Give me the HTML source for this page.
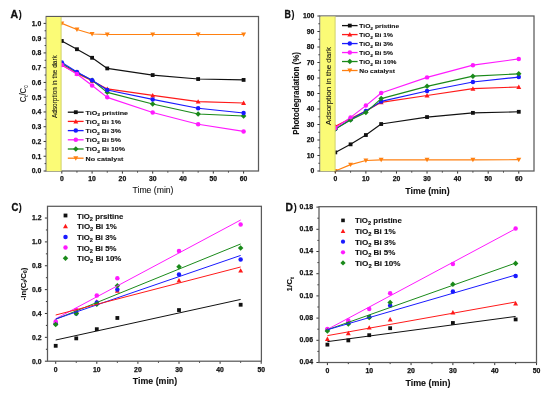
<!DOCTYPE html>
<html><head><meta charset="utf-8"><style>
html,body{margin:0;padding:0;background:#fff;}
body{width:550px;height:393px;overflow:hidden;}
svg{display:block;font-family:"Liberation Sans", sans-serif;filter:blur(0.25px);}
text{stroke:#111;stroke-width:0.08px;}
text[font-weight=bold]{stroke:#111;stroke-width:0.1px;}
text.pl{stroke-width:0.35px;}
text.tk{stroke-width:0.25px;}
</style></head><body>
<svg width="550" height="393" viewBox="0 0 550 393">
<rect width="550" height="393" fill="#fff"/>
<path d="M61.8 23.4L76.95 29.45L92.1 34.03L107.25 34.47L152.7 34.47L198.15 34.47L243.6 34.47" fill="none" stroke="#ff8010" stroke-width="1.15" stroke-linejoin="round"/>
<path d="M61.8 25.87L64.27 21.42L59.33 21.42Z" fill="#ff8010"/>
<path d="M76.95 31.92L79.42 27.48L74.48 27.48Z" fill="#ff8010"/>
<path d="M92.1 36.5L94.57 32.05L89.63 32.05Z" fill="#ff8010"/>
<path d="M107.25 36.94L109.72 32.49L104.78 32.49Z" fill="#ff8010"/>
<path d="M152.7 36.94L155.17 32.49L150.23 32.49Z" fill="#ff8010"/>
<path d="M198.15 36.94L200.62 32.49L195.68 32.49Z" fill="#ff8010"/>
<path d="M243.6 36.94L246.07 32.49L241.13 32.49Z" fill="#ff8010"/>
<path d="M61.8 40.96L76.95 49.23L92.1 57.79L107.25 68.42L152.7 75.06L198.15 79.05L243.6 79.93" fill="none" stroke="#111111" stroke-width="1.15" stroke-linejoin="round"/>
<rect x="59.9" y="39.06" width="3.8" height="3.8" fill="#111111"/>
<rect x="75.05" y="47.33" width="3.8" height="3.8" fill="#111111"/>
<rect x="90.2" y="55.89" width="3.8" height="3.8" fill="#111111"/>
<rect x="105.35" y="66.52" width="3.8" height="3.8" fill="#111111"/>
<rect x="150.8" y="73.16" width="3.8" height="3.8" fill="#111111"/>
<rect x="196.25" y="77.15" width="3.8" height="3.8" fill="#111111"/>
<rect x="241.7" y="78.03" width="3.8" height="3.8" fill="#111111"/>
<path d="M61.8 65.02L76.95 73.58L92.1 80.67L107.25 88.93L152.7 95.43L198.15 101.63L243.6 102.96" fill="none" stroke="#ff1a1a" stroke-width="1.15" stroke-linejoin="round"/>
<path d="M61.8 62.55L64.27 67L59.33 67Z" fill="#ff1a1a"/>
<path d="M76.95 71.11L79.42 75.56L74.48 75.56Z" fill="#ff1a1a"/>
<path d="M92.1 78.2L94.57 82.64L89.63 82.64Z" fill="#ff1a1a"/>
<path d="M107.25 86.46L109.72 90.91L104.78 90.91Z" fill="#ff1a1a"/>
<path d="M152.7 92.96L155.17 97.4L150.23 97.4Z" fill="#ff1a1a"/>
<path d="M198.15 99.16L200.62 103.6L195.68 103.6Z" fill="#ff1a1a"/>
<path d="M243.6 100.49L246.07 104.93L241.13 104.93Z" fill="#ff1a1a"/>
<path d="M61.8 63.55L76.95 72.4L92.1 80.23L107.25 92.33L152.7 103.99L198.15 114.03L243.6 115.95" fill="none" stroke="#1a8a1a" stroke-width="1.15" stroke-linejoin="round"/>
<path d="M61.8 60.79L64.55 63.55L61.8 66.3L59.04 63.55Z" fill="#1a8a1a"/>
<path d="M76.95 69.65L79.7 72.4L76.95 75.16L74.19 72.4Z" fill="#1a8a1a"/>
<path d="M92.1 77.47L94.85 80.23L92.1 82.98L89.34 80.23Z" fill="#1a8a1a"/>
<path d="M107.25 89.57L110 92.33L107.25 95.08L104.5 92.33Z" fill="#1a8a1a"/>
<path d="M152.7 101.23L155.45 103.99L152.7 106.74L149.94 103.99Z" fill="#1a8a1a"/>
<path d="M198.15 111.27L200.9 114.03L198.15 116.78L195.39 114.03Z" fill="#1a8a1a"/>
<path d="M243.6 113.19L246.35 115.95L243.6 118.7L240.84 115.95Z" fill="#1a8a1a"/>
<path d="M61.8 62.37L76.95 71.96L92.1 80.23L107.25 89.97L152.7 99.41L198.15 108.27L243.6 112.99" fill="none" stroke="#1a1aff" stroke-width="1.15" stroke-linejoin="round"/>
<circle cx="61.8" cy="62.37" r="2.24" fill="#1a1aff"/>
<circle cx="76.95" cy="71.96" r="2.24" fill="#1a1aff"/>
<circle cx="92.1" cy="80.23" r="2.24" fill="#1a1aff"/>
<circle cx="107.25" cy="89.97" r="2.24" fill="#1a1aff"/>
<circle cx="152.7" cy="99.41" r="2.24" fill="#1a1aff"/>
<circle cx="198.15" cy="108.27" r="2.24" fill="#1a1aff"/>
<circle cx="243.6" cy="112.99" r="2.24" fill="#1a1aff"/>
<path d="M61.8 65.02L76.95 74.03L92.1 85.54L107.25 97.35L152.7 112.55L198.15 124.21L243.6 131.44" fill="none" stroke="#ff1aff" stroke-width="1.15" stroke-linejoin="round"/>
<circle cx="61.8" cy="65.02" r="2.24" fill="#ff1aff"/>
<circle cx="76.95" cy="74.03" r="2.24" fill="#ff1aff"/>
<circle cx="92.1" cy="85.54" r="2.24" fill="#ff1aff"/>
<circle cx="107.25" cy="97.35" r="2.24" fill="#ff1aff"/>
<circle cx="152.7" cy="112.55" r="2.24" fill="#ff1aff"/>
<circle cx="198.15" cy="124.21" r="2.24" fill="#ff1aff"/>
<circle cx="243.6" cy="131.44" r="2.24" fill="#ff1aff"/>
<line x1="61.8" y1="171" x2="61.8" y2="173.6" stroke="#333333" stroke-width="1"/>
<text x="61.8" y="181.1" font-size="6.8" font-weight="bold" text-anchor="middle" fill="#111" class="tk">0</text>
<line x1="92.1" y1="171" x2="92.1" y2="173.6" stroke="#333333" stroke-width="1"/>
<text x="92.1" y="181.1" font-size="6.8" font-weight="bold" text-anchor="middle" fill="#111" class="tk">10</text>
<line x1="122.4" y1="171" x2="122.4" y2="173.6" stroke="#333333" stroke-width="1"/>
<text x="122.4" y="181.1" font-size="6.8" font-weight="bold" text-anchor="middle" fill="#111" class="tk">20</text>
<line x1="152.7" y1="171" x2="152.7" y2="173.6" stroke="#333333" stroke-width="1"/>
<text x="152.7" y="181.1" font-size="6.8" font-weight="bold" text-anchor="middle" fill="#111" class="tk">30</text>
<line x1="183" y1="171" x2="183" y2="173.6" stroke="#333333" stroke-width="1"/>
<text x="183" y="181.1" font-size="6.8" font-weight="bold" text-anchor="middle" fill="#111" class="tk">40</text>
<line x1="213.3" y1="171" x2="213.3" y2="173.6" stroke="#333333" stroke-width="1"/>
<text x="213.3" y="181.1" font-size="6.8" font-weight="bold" text-anchor="middle" fill="#111" class="tk">50</text>
<line x1="243.6" y1="171" x2="243.6" y2="173.6" stroke="#333333" stroke-width="1"/>
<text x="243.6" y="181.1" font-size="6.8" font-weight="bold" text-anchor="middle" fill="#111" class="tk">60</text>
<line x1="76.95" y1="171" x2="76.95" y2="172.6" stroke="#333333" stroke-width="1"/>
<line x1="107.25" y1="171" x2="107.25" y2="172.6" stroke="#333333" stroke-width="1"/>
<line x1="137.55" y1="171" x2="137.55" y2="172.6" stroke="#333333" stroke-width="1"/>
<line x1="167.85" y1="171" x2="167.85" y2="172.6" stroke="#333333" stroke-width="1"/>
<line x1="198.15" y1="171" x2="198.15" y2="172.6" stroke="#333333" stroke-width="1"/>
<line x1="228.45" y1="171" x2="228.45" y2="172.6" stroke="#333333" stroke-width="1"/>
<line x1="43.6" y1="171" x2="46.2" y2="171" stroke="#333333" stroke-width="1"/>
<text x="41.2" y="173.45" font-size="6.8" font-weight="bold" text-anchor="end" fill="#111" class="tk">0.0</text>
<line x1="43.6" y1="156.24" x2="46.2" y2="156.24" stroke="#333333" stroke-width="1"/>
<text x="41.2" y="158.69" font-size="6.8" font-weight="bold" text-anchor="end" fill="#111" class="tk">0.1</text>
<line x1="43.6" y1="141.48" x2="46.2" y2="141.48" stroke="#333333" stroke-width="1"/>
<text x="41.2" y="143.93" font-size="6.8" font-weight="bold" text-anchor="end" fill="#111" class="tk">0.2</text>
<line x1="43.6" y1="126.72" x2="46.2" y2="126.72" stroke="#333333" stroke-width="1"/>
<text x="41.2" y="129.17" font-size="6.8" font-weight="bold" text-anchor="end" fill="#111" class="tk">0.3</text>
<line x1="43.6" y1="111.96" x2="46.2" y2="111.96" stroke="#333333" stroke-width="1"/>
<text x="41.2" y="114.41" font-size="6.8" font-weight="bold" text-anchor="end" fill="#111" class="tk">0.4</text>
<line x1="43.6" y1="97.2" x2="46.2" y2="97.2" stroke="#333333" stroke-width="1"/>
<text x="41.2" y="99.65" font-size="6.8" font-weight="bold" text-anchor="end" fill="#111" class="tk">0.5</text>
<line x1="43.6" y1="82.44" x2="46.2" y2="82.44" stroke="#333333" stroke-width="1"/>
<text x="41.2" y="84.89" font-size="6.8" font-weight="bold" text-anchor="end" fill="#111" class="tk">0.6</text>
<line x1="43.6" y1="67.68" x2="46.2" y2="67.68" stroke="#333333" stroke-width="1"/>
<text x="41.2" y="70.13" font-size="6.8" font-weight="bold" text-anchor="end" fill="#111" class="tk">0.7</text>
<line x1="43.6" y1="52.92" x2="46.2" y2="52.92" stroke="#333333" stroke-width="1"/>
<text x="41.2" y="55.37" font-size="6.8" font-weight="bold" text-anchor="end" fill="#111" class="tk">0.8</text>
<line x1="43.6" y1="38.16" x2="46.2" y2="38.16" stroke="#333333" stroke-width="1"/>
<text x="41.2" y="40.61" font-size="6.8" font-weight="bold" text-anchor="end" fill="#111" class="tk">0.9</text>
<line x1="43.6" y1="23.4" x2="46.2" y2="23.4" stroke="#333333" stroke-width="1"/>
<text x="41.2" y="25.85" font-size="6.8" font-weight="bold" text-anchor="end" fill="#111" class="tk">1.0</text>
<line x1="44.6" y1="163.62" x2="46.2" y2="163.62" stroke="#333333" stroke-width="1"/>
<line x1="44.6" y1="148.86" x2="46.2" y2="148.86" stroke="#333333" stroke-width="1"/>
<line x1="44.6" y1="134.1" x2="46.2" y2="134.1" stroke="#333333" stroke-width="1"/>
<line x1="44.6" y1="119.34" x2="46.2" y2="119.34" stroke="#333333" stroke-width="1"/>
<line x1="44.6" y1="104.58" x2="46.2" y2="104.58" stroke="#333333" stroke-width="1"/>
<line x1="44.6" y1="89.82" x2="46.2" y2="89.82" stroke="#333333" stroke-width="1"/>
<line x1="44.6" y1="75.06" x2="46.2" y2="75.06" stroke="#333333" stroke-width="1"/>
<line x1="44.6" y1="60.3" x2="46.2" y2="60.3" stroke="#333333" stroke-width="1"/>
<line x1="44.6" y1="45.54" x2="46.2" y2="45.54" stroke="#333333" stroke-width="1"/>
<line x1="44.6" y1="30.78" x2="46.2" y2="30.78" stroke="#333333" stroke-width="1"/>
<rect x="46.2" y="16.5" width="212.3" height="154.5" fill="none" stroke="#5a5a5a" stroke-width="1.25"/>
<rect x="46.5" y="17" width="14.9" height="154.2" fill="#fbfb76"/>
<line x1="61.1" y1="17" x2="61.1" y2="171.2" stroke="#c0c068" stroke-width="0.7"/>
<text x="10.6" y="17.7" font-size="11.2" font-weight="bold" text-anchor="start" fill="#111" class="pl" textLength="7.6" lengthAdjust="spacingAndGlyphs">A</text>
<text x="18.8" y="17.7" font-size="11.5" font-weight="bold" text-anchor="start" fill="#111" textLength="3" lengthAdjust="spacingAndGlyphs">)</text>
<text x="132.5" y="193" font-size="8.2" font-weight="normal" text-anchor="start" fill="#111" textLength="41" lengthAdjust="spacingAndGlyphs">Time (min)</text>
<text x="26.3" y="93.8" font-size="8.6" text-anchor="middle" fill="#111" transform="rotate(-90 26.3 93.8)" textLength="17" lengthAdjust="spacingAndGlyphs">C<tspan font-size="4.6" dy="1.4">t</tspan><tspan dy="-1.4">/C</tspan><tspan font-size="5" dy="1.4">0</tspan></text>
<text x="56.6" y="86.6" font-size="6.6" font-weight="normal" text-anchor="middle" fill="#111" transform="rotate(-90 56.6 86.6)" textLength="62.8" lengthAdjust="spacingAndGlyphs">Adsorption in the dark</text>
<line x1="67.8" y1="112.2" x2="83.6" y2="112.2" stroke="#111111" stroke-width="1.3"/>
<rect x="73.9" y="110.3" width="3.8" height="3.8" fill="#111111"/>
<text x="85.6" y="114.6" font-size="6.1" font-weight="bold" text-anchor="start" fill="#111" textLength="42.4" lengthAdjust="spacingAndGlyphs">TiO<tspan font-size="4.39" dy="1.83">2</tspan><tspan dy="-1.83"> pristine</tspan></text>
<line x1="67.8" y1="121.4" x2="83.6" y2="121.4" stroke="#ff1a1a" stroke-width="1.3"/>
<path d="M75.8 118.93L78.27 123.38L73.33 123.38Z" fill="#ff1a1a"/>
<text x="85.6" y="123.8" font-size="6.1" font-weight="bold" text-anchor="start" fill="#111" textLength="35.3" lengthAdjust="spacingAndGlyphs">TiO<tspan font-size="4.39" dy="1.83">2</tspan><tspan dy="-1.83"> Bi 1%</tspan></text>
<line x1="67.8" y1="130.6" x2="83.6" y2="130.6" stroke="#1a1aff" stroke-width="1.3"/>
<circle cx="75.8" cy="130.6" r="2.24" fill="#1a1aff"/>
<text x="85.6" y="133" font-size="6.1" font-weight="bold" text-anchor="start" fill="#111" textLength="35.3" lengthAdjust="spacingAndGlyphs">TiO<tspan font-size="4.39" dy="1.83">2</tspan><tspan dy="-1.83"> Bi 3%</tspan></text>
<line x1="67.8" y1="139.8" x2="83.6" y2="139.8" stroke="#ff1aff" stroke-width="1.3"/>
<circle cx="75.8" cy="139.8" r="2.24" fill="#ff1aff"/>
<text x="85.6" y="142.2" font-size="6.1" font-weight="bold" text-anchor="start" fill="#111" textLength="35.3" lengthAdjust="spacingAndGlyphs">TiO<tspan font-size="4.39" dy="1.83">2</tspan><tspan dy="-1.83"> Bi 5%</tspan></text>
<line x1="67.8" y1="149" x2="83.6" y2="149" stroke="#1a8a1a" stroke-width="1.3"/>
<path d="M75.8 146.25L78.55 149L75.8 151.75L73.05 149Z" fill="#1a8a1a"/>
<text x="85.6" y="151.4" font-size="6.1" font-weight="bold" text-anchor="start" fill="#111" textLength="39.4" lengthAdjust="spacingAndGlyphs">TiO<tspan font-size="4.39" dy="1.83">2</tspan><tspan dy="-1.83"> Bi 10%</tspan></text>
<line x1="67.8" y1="158.2" x2="83.6" y2="158.2" stroke="#ff8010" stroke-width="1.3"/>
<path d="M75.8 160.67L78.27 156.22L73.33 156.22Z" fill="#ff8010"/>
<text x="85.6" y="160.6" font-size="6.1" font-weight="bold" text-anchor="start" fill="#111" textLength="37.9" lengthAdjust="spacingAndGlyphs">No catalyst</text>
<path d="M335.3 171L350.59 164.65L365.88 160.46L381.17 159.84L427.04 159.84L472.91 159.84L518.78 159.69" fill="none" stroke="#ff8010" stroke-width="1.15" stroke-linejoin="round"/>
<path d="M335.3 173.47L337.77 169.02L332.83 169.02Z" fill="#ff8010"/>
<path d="M350.59 167.12L353.06 162.67L348.12 162.67Z" fill="#ff8010"/>
<path d="M365.88 162.93L368.35 158.48L363.41 158.48Z" fill="#ff8010"/>
<path d="M381.17 162.31L383.64 157.86L378.7 157.86Z" fill="#ff8010"/>
<path d="M427.04 162.31L429.51 157.86L424.57 157.86Z" fill="#ff8010"/>
<path d="M472.91 162.31L475.38 157.86L470.44 157.86Z" fill="#ff8010"/>
<path d="M518.78 162.16L521.25 157.71L516.31 157.71Z" fill="#ff8010"/>
<path d="M335.3 152.4L350.59 144.34L365.88 135.04L381.17 124.03L427.04 117.06L472.91 112.88L518.78 111.79" fill="none" stroke="#111111" stroke-width="1.15" stroke-linejoin="round"/>
<rect x="333.4" y="150.5" width="3.8" height="3.8" fill="#111111"/>
<rect x="348.69" y="142.44" width="3.8" height="3.8" fill="#111111"/>
<rect x="363.98" y="133.14" width="3.8" height="3.8" fill="#111111"/>
<rect x="379.27" y="122.13" width="3.8" height="3.8" fill="#111111"/>
<rect x="425.14" y="115.16" width="3.8" height="3.8" fill="#111111"/>
<rect x="471.01" y="110.97" width="3.8" height="3.8" fill="#111111"/>
<rect x="516.88" y="109.89" width="3.8" height="3.8" fill="#111111"/>
<path d="M335.3 126.36L350.59 118.45L365.88 111.01L381.17 102.34L427.04 95.51L472.91 88.69L518.78 86.99" fill="none" stroke="#ff1a1a" stroke-width="1.15" stroke-linejoin="round"/>
<path d="M335.3 123.89L337.77 128.34L332.83 128.34Z" fill="#ff1a1a"/>
<path d="M350.59 115.98L353.06 120.43L348.12 120.43Z" fill="#ff1a1a"/>
<path d="M365.88 108.54L368.35 112.99L363.41 112.99Z" fill="#ff1a1a"/>
<path d="M381.17 99.87L383.64 104.31L378.7 104.31Z" fill="#ff1a1a"/>
<path d="M427.04 93.04L429.51 97.49L424.57 97.49Z" fill="#ff1a1a"/>
<path d="M472.91 86.22L475.38 90.67L470.44 90.67Z" fill="#ff1a1a"/>
<path d="M518.78 84.52L521.25 88.97L516.31 88.97Z" fill="#ff1a1a"/>
<path d="M335.3 129L350.59 119.39L365.88 111.01L381.17 101.41L427.04 91.02L472.91 82.03L518.78 77.07" fill="none" stroke="#1a1aff" stroke-width="1.15" stroke-linejoin="round"/>
<circle cx="335.3" cy="129" r="2.24" fill="#1a1aff"/>
<circle cx="350.59" cy="119.39" r="2.24" fill="#1a1aff"/>
<circle cx="365.88" cy="111.01" r="2.24" fill="#1a1aff"/>
<circle cx="381.17" cy="101.41" r="2.24" fill="#1a1aff"/>
<circle cx="427.04" cy="91.02" r="2.24" fill="#1a1aff"/>
<circle cx="472.91" cy="82.03" r="2.24" fill="#1a1aff"/>
<circle cx="518.78" cy="77.07" r="2.24" fill="#1a1aff"/>
<path d="M335.3 129L350.59 120L365.88 112.41L381.17 98.61L427.04 86.37L472.91 76.14L518.78 73.81" fill="none" stroke="#1a8a1a" stroke-width="1.15" stroke-linejoin="round"/>
<path d="M335.3 126.24L338.06 129L335.3 131.75L332.55 129Z" fill="#1a8a1a"/>
<path d="M350.59 117.25L353.35 120L350.59 122.76L347.84 120Z" fill="#1a8a1a"/>
<path d="M365.88 109.66L368.63 112.41L365.88 115.16L363.12 112.41Z" fill="#1a8a1a"/>
<path d="M381.17 95.86L383.93 98.61L381.17 101.37L378.42 98.61Z" fill="#1a8a1a"/>
<path d="M427.04 83.61L429.8 86.37L427.04 89.12L424.29 86.37Z" fill="#1a8a1a"/>
<path d="M472.91 73.38L475.66 76.14L472.91 78.89L470.15 76.14Z" fill="#1a8a1a"/>
<path d="M518.78 71.06L521.53 73.81L518.78 76.57L516.02 73.81Z" fill="#1a8a1a"/>
<path d="M335.3 128.06L350.59 117.37L365.88 105.59L381.17 93.03L427.04 77.38L472.91 65.14L518.78 58.94" fill="none" stroke="#ff1aff" stroke-width="1.15" stroke-linejoin="round"/>
<circle cx="335.3" cy="128.06" r="2.24" fill="#ff1aff"/>
<circle cx="350.59" cy="117.37" r="2.24" fill="#ff1aff"/>
<circle cx="365.88" cy="105.59" r="2.24" fill="#ff1aff"/>
<circle cx="381.17" cy="93.03" r="2.24" fill="#ff1aff"/>
<circle cx="427.04" cy="77.38" r="2.24" fill="#ff1aff"/>
<circle cx="472.91" cy="65.14" r="2.24" fill="#ff1aff"/>
<circle cx="518.78" cy="58.94" r="2.24" fill="#ff1aff"/>
<line x1="335.3" y1="171" x2="335.3" y2="173.6" stroke="#333333" stroke-width="1"/>
<text x="335.3" y="181.1" font-size="6.8" font-weight="bold" text-anchor="middle" fill="#111" class="tk">0</text>
<line x1="365.88" y1="171" x2="365.88" y2="173.6" stroke="#333333" stroke-width="1"/>
<text x="365.88" y="181.1" font-size="6.8" font-weight="bold" text-anchor="middle" fill="#111" class="tk">10</text>
<line x1="396.46" y1="171" x2="396.46" y2="173.6" stroke="#333333" stroke-width="1"/>
<text x="396.46" y="181.1" font-size="6.8" font-weight="bold" text-anchor="middle" fill="#111" class="tk">20</text>
<line x1="427.04" y1="171" x2="427.04" y2="173.6" stroke="#333333" stroke-width="1"/>
<text x="427.04" y="181.1" font-size="6.8" font-weight="bold" text-anchor="middle" fill="#111" class="tk">30</text>
<line x1="457.62" y1="171" x2="457.62" y2="173.6" stroke="#333333" stroke-width="1"/>
<text x="457.62" y="181.1" font-size="6.8" font-weight="bold" text-anchor="middle" fill="#111" class="tk">40</text>
<line x1="488.2" y1="171" x2="488.2" y2="173.6" stroke="#333333" stroke-width="1"/>
<text x="488.2" y="181.1" font-size="6.8" font-weight="bold" text-anchor="middle" fill="#111" class="tk">50</text>
<line x1="518.78" y1="171" x2="518.78" y2="173.6" stroke="#333333" stroke-width="1"/>
<text x="518.78" y="181.1" font-size="6.8" font-weight="bold" text-anchor="middle" fill="#111" class="tk">60</text>
<line x1="350.59" y1="171" x2="350.59" y2="172.6" stroke="#333333" stroke-width="1"/>
<line x1="381.17" y1="171" x2="381.17" y2="172.6" stroke="#333333" stroke-width="1"/>
<line x1="411.75" y1="171" x2="411.75" y2="172.6" stroke="#333333" stroke-width="1"/>
<line x1="442.33" y1="171" x2="442.33" y2="172.6" stroke="#333333" stroke-width="1"/>
<line x1="472.91" y1="171" x2="472.91" y2="172.6" stroke="#333333" stroke-width="1"/>
<line x1="503.49" y1="171" x2="503.49" y2="172.6" stroke="#333333" stroke-width="1"/>
<line x1="317.4" y1="171" x2="320" y2="171" stroke="#333333" stroke-width="1"/>
<text x="314.3" y="173.45" font-size="6.8" font-weight="bold" text-anchor="end" fill="#111" class="tk">0</text>
<line x1="317.4" y1="155.5" x2="320" y2="155.5" stroke="#333333" stroke-width="1"/>
<text x="314.3" y="157.95" font-size="6.8" font-weight="bold" text-anchor="end" fill="#111" class="tk">10</text>
<line x1="317.4" y1="140" x2="320" y2="140" stroke="#333333" stroke-width="1"/>
<text x="314.3" y="142.45" font-size="6.8" font-weight="bold" text-anchor="end" fill="#111" class="tk">20</text>
<line x1="317.4" y1="124.5" x2="320" y2="124.5" stroke="#333333" stroke-width="1"/>
<text x="314.3" y="126.95" font-size="6.8" font-weight="bold" text-anchor="end" fill="#111" class="tk">30</text>
<line x1="317.4" y1="109" x2="320" y2="109" stroke="#333333" stroke-width="1"/>
<text x="314.3" y="111.45" font-size="6.8" font-weight="bold" text-anchor="end" fill="#111" class="tk">40</text>
<line x1="317.4" y1="93.5" x2="320" y2="93.5" stroke="#333333" stroke-width="1"/>
<text x="314.3" y="95.95" font-size="6.8" font-weight="bold" text-anchor="end" fill="#111" class="tk">50</text>
<line x1="317.4" y1="78" x2="320" y2="78" stroke="#333333" stroke-width="1"/>
<text x="314.3" y="80.45" font-size="6.8" font-weight="bold" text-anchor="end" fill="#111" class="tk">60</text>
<line x1="317.4" y1="62.5" x2="320" y2="62.5" stroke="#333333" stroke-width="1"/>
<text x="314.3" y="64.95" font-size="6.8" font-weight="bold" text-anchor="end" fill="#111" class="tk">70</text>
<line x1="317.4" y1="47" x2="320" y2="47" stroke="#333333" stroke-width="1"/>
<text x="314.3" y="49.45" font-size="6.8" font-weight="bold" text-anchor="end" fill="#111" class="tk">80</text>
<line x1="317.4" y1="31.5" x2="320" y2="31.5" stroke="#333333" stroke-width="1"/>
<text x="314.3" y="33.95" font-size="6.8" font-weight="bold" text-anchor="end" fill="#111" class="tk">90</text>
<line x1="317.4" y1="16" x2="320" y2="16" stroke="#333333" stroke-width="1"/>
<text x="314.3" y="18.45" font-size="6.8" font-weight="bold" text-anchor="end" fill="#111" class="tk">100</text>
<line x1="318.4" y1="163.25" x2="320" y2="163.25" stroke="#333333" stroke-width="1"/>
<line x1="318.4" y1="147.75" x2="320" y2="147.75" stroke="#333333" stroke-width="1"/>
<line x1="318.4" y1="132.25" x2="320" y2="132.25" stroke="#333333" stroke-width="1"/>
<line x1="318.4" y1="116.75" x2="320" y2="116.75" stroke="#333333" stroke-width="1"/>
<line x1="318.4" y1="101.25" x2="320" y2="101.25" stroke="#333333" stroke-width="1"/>
<line x1="318.4" y1="85.75" x2="320" y2="85.75" stroke="#333333" stroke-width="1"/>
<line x1="318.4" y1="70.25" x2="320" y2="70.25" stroke="#333333" stroke-width="1"/>
<line x1="318.4" y1="54.75" x2="320" y2="54.75" stroke="#333333" stroke-width="1"/>
<line x1="318.4" y1="39.25" x2="320" y2="39.25" stroke="#333333" stroke-width="1"/>
<line x1="318.4" y1="23.75" x2="320" y2="23.75" stroke="#333333" stroke-width="1"/>
<rect x="320" y="16" width="214" height="155" fill="none" stroke="#5a5a5a" stroke-width="1.25"/>
<rect x="320.3" y="16.5" width="15.1" height="154.7" fill="#fbfb76"/>
<line x1="335.1" y1="16.5" x2="335.1" y2="171.2" stroke="#c0c068" stroke-width="0.7"/>
<text x="284.4" y="17.5" font-size="11.2" font-weight="bold" text-anchor="start" fill="#111" class="pl" textLength="6.4" lengthAdjust="spacingAndGlyphs">B</text>
<text x="291.5" y="17.5" font-size="11.5" font-weight="bold" text-anchor="start" fill="#111" textLength="3" lengthAdjust="spacingAndGlyphs">)</text>
<text x="405.3" y="194.3" font-size="8.6" font-weight="bold" text-anchor="start" fill="#111" textLength="44.4" lengthAdjust="spacingAndGlyphs">Time (min)</text>
<text x="298.7" y="93.4" font-size="8.2" font-weight="bold" text-anchor="middle" fill="#111" transform="rotate(-90 298.7 93.4)" textLength="82.8" lengthAdjust="spacingAndGlyphs">Photodegradation (%)</text>
<text x="330.6" y="86.1" font-size="7.8" font-weight="normal" text-anchor="middle" fill="#111" transform="rotate(-90 330.6 86.1)" textLength="78.2" lengthAdjust="spacingAndGlyphs">Adsorption in the dark</text>
<line x1="342" y1="25.6" x2="357.6" y2="25.6" stroke="#111111" stroke-width="1.3"/>
<rect x="347.9" y="23.7" width="3.8" height="3.8" fill="#111111"/>
<text x="359.3" y="27.9" font-size="6.0" font-weight="bold" text-anchor="start" fill="#111" textLength="39.9" lengthAdjust="spacingAndGlyphs">TiO<tspan font-size="4.32" dy="1.8">2</tspan><tspan dy="-1.8"> pristine</tspan></text>
<line x1="342" y1="34.58" x2="357.6" y2="34.58" stroke="#ff1a1a" stroke-width="1.3"/>
<path d="M349.8 32.11L352.27 36.56L347.33 36.56Z" fill="#ff1a1a"/>
<text x="359.3" y="36.88" font-size="6.0" font-weight="bold" text-anchor="start" fill="#111" textLength="33.6" lengthAdjust="spacingAndGlyphs">TiO<tspan font-size="4.32" dy="1.8">2</tspan><tspan dy="-1.8"> Bi 1%</tspan></text>
<line x1="342" y1="43.56" x2="357.6" y2="43.56" stroke="#1a1aff" stroke-width="1.3"/>
<circle cx="349.8" cy="43.56" r="2.24" fill="#1a1aff"/>
<text x="359.3" y="45.86" font-size="6.0" font-weight="bold" text-anchor="start" fill="#111" textLength="33.6" lengthAdjust="spacingAndGlyphs">TiO<tspan font-size="4.32" dy="1.8">2</tspan><tspan dy="-1.8"> Bi 3%</tspan></text>
<line x1="342" y1="52.54" x2="357.6" y2="52.54" stroke="#ff1aff" stroke-width="1.3"/>
<circle cx="349.8" cy="52.54" r="2.24" fill="#ff1aff"/>
<text x="359.3" y="54.84" font-size="6.0" font-weight="bold" text-anchor="start" fill="#111" textLength="33.6" lengthAdjust="spacingAndGlyphs">TiO<tspan font-size="4.32" dy="1.8">2</tspan><tspan dy="-1.8"> Bi 5%</tspan></text>
<line x1="342" y1="61.52" x2="357.6" y2="61.52" stroke="#1a8a1a" stroke-width="1.3"/>
<path d="M349.8 58.77L352.56 61.52L349.8 64.28L347.05 61.52Z" fill="#1a8a1a"/>
<text x="359.3" y="63.82" font-size="6.0" font-weight="bold" text-anchor="start" fill="#111" textLength="37.2" lengthAdjust="spacingAndGlyphs">TiO<tspan font-size="4.32" dy="1.8">2</tspan><tspan dy="-1.8"> Bi 10%</tspan></text>
<line x1="342" y1="70.5" x2="357.6" y2="70.5" stroke="#ff8010" stroke-width="1.3"/>
<path d="M349.8 72.97L352.27 68.52L347.33 68.52Z" fill="#ff8010"/>
<text x="359.3" y="72.8" font-size="6.0" font-weight="bold" text-anchor="start" fill="#111" textLength="35.7" lengthAdjust="spacingAndGlyphs">No catalyst</text>
<rect x="53.8" y="343.91" width="3.8" height="3.8" fill="#111111"/>
<rect x="74.35" y="336.48" width="3.8" height="3.8" fill="#111111"/>
<rect x="94.9" y="327.28" width="3.8" height="3.8" fill="#111111"/>
<rect x="115.45" y="316.07" width="3.8" height="3.8" fill="#111111"/>
<rect x="177.1" y="308.16" width="3.8" height="3.8" fill="#111111"/>
<rect x="238.75" y="302.85" width="3.8" height="3.8" fill="#111111"/>
<path d="M55.7 319.39L58.17 323.84L53.23 323.84Z" fill="#ff1a1a"/>
<path d="M76.25 308.77L78.72 313.22L73.78 313.22Z" fill="#ff1a1a"/>
<path d="M96.8 299.33L99.27 303.78L94.33 303.78Z" fill="#ff1a1a"/>
<path d="M117.35 288.36L119.82 292.8L114.88 292.8Z" fill="#ff1a1a"/>
<path d="M179 278.09L181.47 282.54L176.53 282.54Z" fill="#ff1a1a"/>
<path d="M240.65 268.18L243.12 272.62L238.18 272.62Z" fill="#ff1a1a"/>
<circle cx="55.7" cy="323.63" r="2.24" fill="#1a1aff"/>
<circle cx="76.25" cy="313.6" r="2.24" fill="#1a1aff"/>
<circle cx="96.8" cy="302.51" r="2.24" fill="#1a1aff"/>
<circle cx="117.35" cy="289.41" r="2.24" fill="#1a1aff"/>
<circle cx="179" cy="274.42" r="2.24" fill="#1a1aff"/>
<circle cx="240.65" cy="259.44" r="2.24" fill="#1a1aff"/>
<circle cx="55.7" cy="321.51" r="2.24" fill="#ff1aff"/>
<circle cx="76.25" cy="310.06" r="2.24" fill="#ff1aff"/>
<circle cx="96.8" cy="295.43" r="2.24" fill="#ff1aff"/>
<circle cx="117.35" cy="278.2" r="2.24" fill="#ff1aff"/>
<circle cx="179" cy="251.06" r="2.24" fill="#ff1aff"/>
<circle cx="240.65" cy="224.39" r="2.24" fill="#ff1aff"/>
<path d="M55.7 321.7L58.46 324.46L55.7 327.21L52.95 324.46Z" fill="#1a8a1a"/>
<path d="M76.25 310.85L79 313.6L76.25 316.36L73.5 313.6Z" fill="#1a8a1a"/>
<path d="M96.8 301.41L99.56 304.16L96.8 306.92L94.05 304.16Z" fill="#1a8a1a"/>
<path d="M117.35 282.88L120.11 285.63L117.35 288.39L114.6 285.63Z" fill="#1a8a1a"/>
<path d="M179 263.88L181.75 266.64L179 269.39L176.25 266.64Z" fill="#1a8a1a"/>
<path d="M240.65 245.24L243.41 247.99L240.65 250.75L237.9 247.99Z" fill="#1a8a1a"/>
<line x1="55.7" y1="340.03" x2="240.65" y2="299.44" stroke="#111111" stroke-width="1.0"/>
<line x1="55.7" y1="318.79" x2="240.65" y2="220.03" stroke="#ff1aff" stroke-width="1.0"/>
<line x1="55.7" y1="319.26" x2="240.65" y2="243.98" stroke="#1a8a1a" stroke-width="1.0"/>
<line x1="55.7" y1="319.03" x2="240.65" y2="255.43" stroke="#1a1aff" stroke-width="1.0"/>
<line x1="55.7" y1="315.02" x2="240.65" y2="266.99" stroke="#ff1a1a" stroke-width="1.0"/>
<line x1="55.7" y1="361.2" x2="55.7" y2="363.8" stroke="#333333" stroke-width="1"/>
<text x="55.7" y="371.6" font-size="6.8" font-weight="bold" text-anchor="middle" fill="#111" class="tk">0</text>
<line x1="96.8" y1="361.2" x2="96.8" y2="363.8" stroke="#333333" stroke-width="1"/>
<text x="96.8" y="371.6" font-size="6.8" font-weight="bold" text-anchor="middle" fill="#111" class="tk">10</text>
<line x1="137.9" y1="361.2" x2="137.9" y2="363.8" stroke="#333333" stroke-width="1"/>
<text x="137.9" y="371.6" font-size="6.8" font-weight="bold" text-anchor="middle" fill="#111" class="tk">20</text>
<line x1="179" y1="361.2" x2="179" y2="363.8" stroke="#333333" stroke-width="1"/>
<text x="179" y="371.6" font-size="6.8" font-weight="bold" text-anchor="middle" fill="#111" class="tk">30</text>
<line x1="220.1" y1="361.2" x2="220.1" y2="363.8" stroke="#333333" stroke-width="1"/>
<text x="220.1" y="371.6" font-size="6.8" font-weight="bold" text-anchor="middle" fill="#111" class="tk">40</text>
<line x1="261.2" y1="361.2" x2="261.2" y2="363.8" stroke="#333333" stroke-width="1"/>
<text x="261.2" y="371.6" font-size="6.8" font-weight="bold" text-anchor="middle" fill="#111" class="tk">50</text>
<line x1="76.25" y1="361.2" x2="76.25" y2="362.8" stroke="#333333" stroke-width="1"/>
<line x1="117.35" y1="361.2" x2="117.35" y2="362.8" stroke="#333333" stroke-width="1"/>
<line x1="158.45" y1="361.2" x2="158.45" y2="362.8" stroke="#333333" stroke-width="1"/>
<line x1="199.55" y1="361.2" x2="199.55" y2="362.8" stroke="#333333" stroke-width="1"/>
<line x1="240.65" y1="361.2" x2="240.65" y2="362.8" stroke="#333333" stroke-width="1"/>
<line x1="44.9" y1="361.2" x2="47.5" y2="361.2" stroke="#333333" stroke-width="1"/>
<text x="41.5" y="363.65" font-size="6.8" font-weight="bold" text-anchor="end" fill="#111" class="tk">0.0</text>
<line x1="44.9" y1="337.34" x2="47.5" y2="337.34" stroke="#333333" stroke-width="1"/>
<text x="41.5" y="339.79" font-size="6.8" font-weight="bold" text-anchor="end" fill="#111" class="tk">0.2</text>
<line x1="44.9" y1="313.48" x2="47.5" y2="313.48" stroke="#333333" stroke-width="1"/>
<text x="41.5" y="315.93" font-size="6.8" font-weight="bold" text-anchor="end" fill="#111" class="tk">0.4</text>
<line x1="44.9" y1="289.62" x2="47.5" y2="289.62" stroke="#333333" stroke-width="1"/>
<text x="41.5" y="292.07" font-size="6.8" font-weight="bold" text-anchor="end" fill="#111" class="tk">0.6</text>
<line x1="44.9" y1="265.76" x2="47.5" y2="265.76" stroke="#333333" stroke-width="1"/>
<text x="41.5" y="268.21" font-size="6.8" font-weight="bold" text-anchor="end" fill="#111" class="tk">0.8</text>
<line x1="44.9" y1="241.9" x2="47.5" y2="241.9" stroke="#333333" stroke-width="1"/>
<text x="41.5" y="244.35" font-size="6.8" font-weight="bold" text-anchor="end" fill="#111" class="tk">1.0</text>
<line x1="44.9" y1="218.04" x2="47.5" y2="218.04" stroke="#333333" stroke-width="1"/>
<text x="41.5" y="220.49" font-size="6.8" font-weight="bold" text-anchor="end" fill="#111" class="tk">1.2</text>
<line x1="45.9" y1="349.27" x2="47.5" y2="349.27" stroke="#333333" stroke-width="1"/>
<line x1="45.9" y1="325.41" x2="47.5" y2="325.41" stroke="#333333" stroke-width="1"/>
<line x1="45.9" y1="301.55" x2="47.5" y2="301.55" stroke="#333333" stroke-width="1"/>
<line x1="45.9" y1="277.69" x2="47.5" y2="277.69" stroke="#333333" stroke-width="1"/>
<line x1="45.9" y1="253.83" x2="47.5" y2="253.83" stroke="#333333" stroke-width="1"/>
<line x1="45.9" y1="229.97" x2="47.5" y2="229.97" stroke="#333333" stroke-width="1"/>
<rect x="47.5" y="206.3" width="213.9" height="154.9" fill="none" stroke="#5a5a5a" stroke-width="1.25"/>
<text x="11.5" y="211" font-size="11.2" font-weight="bold" text-anchor="start" fill="#111" class="pl" textLength="6.9" lengthAdjust="spacingAndGlyphs">C</text>
<text x="18.8" y="211" font-size="11.5" font-weight="bold" text-anchor="start" fill="#111" textLength="3" lengthAdjust="spacingAndGlyphs">)</text>
<text x="132.8" y="384.3" font-size="8.6" font-weight="bold" text-anchor="start" fill="#111" textLength="44.4" lengthAdjust="spacingAndGlyphs">Time (min)</text>
<text x="25.6" y="284" font-size="7.2" font-weight="bold" text-anchor="middle" fill="#111" transform="rotate(-90 25.6 284)" textLength="32.6" lengthAdjust="spacingAndGlyphs">-ln(C<tspan font-size="4.6" dy="1.3">t</tspan><tspan dy="-1.3">/C</tspan><tspan font-size="4.6" dy="1.3">0</tspan><tspan dy="-1.3">)</tspan></text>
<rect x="63.6" y="213.6" width="3.8" height="3.8" fill="#111111"/>
<text x="77" y="218.5" font-size="6.9" font-weight="bold" text-anchor="start" fill="#111" textLength="46.4" lengthAdjust="spacingAndGlyphs">TiO<tspan font-size="4.97" dy="2.07">2</tspan><tspan dy="-2.07"> prsitine</tspan></text>
<path d="M65.5 223.73L67.97 228.18L63.03 228.18Z" fill="#ff1a1a"/>
<text x="77" y="229.2" font-size="6.9" font-weight="bold" text-anchor="start" fill="#111" textLength="39.9" lengthAdjust="spacingAndGlyphs">TiO<tspan font-size="4.97" dy="2.07">2</tspan><tspan dy="-2.07"> Bi 1%</tspan></text>
<circle cx="65.5" cy="236.9" r="2.24" fill="#1a1aff"/>
<text x="77" y="239.9" font-size="6.9" font-weight="bold" text-anchor="start" fill="#111" textLength="39.5" lengthAdjust="spacingAndGlyphs">TiO<tspan font-size="4.97" dy="2.07">2</tspan><tspan dy="-2.07"> Bi 3%</tspan></text>
<circle cx="65.5" cy="247.6" r="2.24" fill="#ff1aff"/>
<text x="77" y="250.6" font-size="6.9" font-weight="bold" text-anchor="start" fill="#111" textLength="39.5" lengthAdjust="spacingAndGlyphs">TiO<tspan font-size="4.97" dy="2.07">2</tspan><tspan dy="-2.07"> Bi 5%</tspan></text>
<path d="M65.5 255.55L68.25 258.3L65.5 261.06L62.74 258.3Z" fill="#1a8a1a"/>
<text x="77" y="261.3" font-size="6.9" font-weight="bold" text-anchor="start" fill="#111" textLength="44.4" lengthAdjust="spacingAndGlyphs">TiO<tspan font-size="4.97" dy="2.07">2</tspan><tspan dy="-2.07"> Bi 10%</tspan></text>
<rect x="325.5" y="342.73" width="3.8" height="3.8" fill="#111111"/>
<rect x="346.42" y="338.51" width="3.8" height="3.8" fill="#111111"/>
<rect x="367.33" y="333.29" width="3.8" height="3.8" fill="#111111"/>
<rect x="388.25" y="326.3" width="3.8" height="3.8" fill="#111111"/>
<rect x="450.99" y="321.08" width="3.8" height="3.8" fill="#111111"/>
<rect x="513.74" y="317.53" width="3.8" height="3.8" fill="#111111"/>
<path d="M327.4 336.5L329.87 340.94L324.93 340.94Z" fill="#ff1a1a"/>
<path d="M348.31 330.73L350.79 335.17L345.84 335.17Z" fill="#ff1a1a"/>
<path d="M369.23 325.18L371.7 329.62L366.76 329.62Z" fill="#ff1a1a"/>
<path d="M390.14 316.96L392.62 321.41L387.67 321.41Z" fill="#ff1a1a"/>
<path d="M452.89 309.97L455.36 314.42L450.42 314.42Z" fill="#ff1a1a"/>
<path d="M515.63 300.98L518.11 305.42L513.16 305.42Z" fill="#ff1a1a"/>
<circle cx="327.4" cy="329.98" r="2.24" fill="#1a1aff"/>
<circle cx="348.31" cy="322.98" r="2.24" fill="#1a1aff"/>
<circle cx="369.23" cy="316.99" r="2.24" fill="#1a1aff"/>
<circle cx="390.14" cy="305.56" r="2.24" fill="#1a1aff"/>
<circle cx="452.89" cy="291.57" r="2.24" fill="#1a1aff"/>
<circle cx="515.63" cy="276.03" r="2.24" fill="#1a1aff"/>
<circle cx="327.4" cy="328.98" r="2.24" fill="#ff1aff"/>
<circle cx="348.31" cy="320.54" r="2.24" fill="#ff1aff"/>
<circle cx="369.23" cy="309" r="2.24" fill="#ff1aff"/>
<circle cx="390.14" cy="293.35" r="2.24" fill="#ff1aff"/>
<circle cx="452.89" cy="264.04" r="2.24" fill="#ff1aff"/>
<circle cx="515.63" cy="228.52" r="2.24" fill="#ff1aff"/>
<path d="M327.4 328.22L330.15 330.98L327.4 333.73L324.64 330.98Z" fill="#1a8a1a"/>
<path d="M348.31 321.23L351.07 323.98L348.31 326.74L345.56 323.98Z" fill="#1a8a1a"/>
<path d="M369.23 314.68L371.98 317.43L369.23 320.19L366.47 317.43Z" fill="#1a8a1a"/>
<path d="M390.14 299.69L392.9 302.45L390.14 305.2L387.39 302.45Z" fill="#1a8a1a"/>
<path d="M452.89 281.6L455.64 284.36L452.89 287.11L450.13 284.36Z" fill="#1a8a1a"/>
<path d="M515.63 260.62L518.39 263.38L515.63 266.13L512.88 263.38Z" fill="#1a8a1a"/>
<line x1="327.4" y1="341.63" x2="515.63" y2="316.44" stroke="#111111" stroke-width="1.0"/>
<line x1="327.4" y1="329.42" x2="515.63" y2="228.75" stroke="#ff1aff" stroke-width="1.0"/>
<line x1="327.4" y1="329.75" x2="515.63" y2="263.04" stroke="#1a8a1a" stroke-width="1.0"/>
<line x1="327.4" y1="329.75" x2="515.63" y2="275.03" stroke="#1a1aff" stroke-width="1.0"/>
<line x1="327.4" y1="335.64" x2="515.63" y2="302" stroke="#ff1a1a" stroke-width="1.0"/>
<line x1="327.4" y1="362.5" x2="327.4" y2="365.1" stroke="#333333" stroke-width="1"/>
<text x="327.4" y="372.9" font-size="6.9" font-weight="bold" text-anchor="middle" fill="#111" class="tk">0</text>
<line x1="369.23" y1="362.5" x2="369.23" y2="365.1" stroke="#333333" stroke-width="1"/>
<text x="369.23" y="372.9" font-size="6.9" font-weight="bold" text-anchor="middle" fill="#111" class="tk">10</text>
<line x1="411.06" y1="362.5" x2="411.06" y2="365.1" stroke="#333333" stroke-width="1"/>
<text x="411.06" y="372.9" font-size="6.9" font-weight="bold" text-anchor="middle" fill="#111" class="tk">20</text>
<line x1="452.89" y1="362.5" x2="452.89" y2="365.1" stroke="#333333" stroke-width="1"/>
<text x="452.89" y="372.9" font-size="6.9" font-weight="bold" text-anchor="middle" fill="#111" class="tk">30</text>
<line x1="494.72" y1="362.5" x2="494.72" y2="365.1" stroke="#333333" stroke-width="1"/>
<text x="494.72" y="372.9" font-size="6.9" font-weight="bold" text-anchor="middle" fill="#111" class="tk">40</text>
<line x1="536.55" y1="362.5" x2="536.55" y2="365.1" stroke="#333333" stroke-width="1"/>
<text x="536.55" y="372.9" font-size="6.9" font-weight="bold" text-anchor="middle" fill="#111" class="tk">50</text>
<line x1="348.31" y1="362.5" x2="348.31" y2="364.1" stroke="#333333" stroke-width="1"/>
<line x1="390.14" y1="362.5" x2="390.14" y2="364.1" stroke="#333333" stroke-width="1"/>
<line x1="431.97" y1="362.5" x2="431.97" y2="364.1" stroke="#333333" stroke-width="1"/>
<line x1="473.8" y1="362.5" x2="473.8" y2="364.1" stroke="#333333" stroke-width="1"/>
<line x1="515.63" y1="362.5" x2="515.63" y2="364.1" stroke="#333333" stroke-width="1"/>
<line x1="316.4" y1="362.5" x2="319" y2="362.5" stroke="#333333" stroke-width="1"/>
<text x="313" y="364.28" font-size="6.9" font-weight="bold" text-anchor="end" fill="#111" class="tk">0.04</text>
<line x1="316.4" y1="340.3" x2="319" y2="340.3" stroke="#333333" stroke-width="1"/>
<text x="313" y="342.08" font-size="6.9" font-weight="bold" text-anchor="end" fill="#111" class="tk">0.06</text>
<line x1="316.4" y1="318.1" x2="319" y2="318.1" stroke="#333333" stroke-width="1"/>
<text x="313" y="319.88" font-size="6.9" font-weight="bold" text-anchor="end" fill="#111" class="tk">0.08</text>
<line x1="316.4" y1="295.9" x2="319" y2="295.9" stroke="#333333" stroke-width="1"/>
<text x="313" y="297.68" font-size="6.9" font-weight="bold" text-anchor="end" fill="#111" class="tk">0.10</text>
<line x1="316.4" y1="273.7" x2="319" y2="273.7" stroke="#333333" stroke-width="1"/>
<text x="313" y="275.48" font-size="6.9" font-weight="bold" text-anchor="end" fill="#111" class="tk">0.12</text>
<line x1="316.4" y1="251.5" x2="319" y2="251.5" stroke="#333333" stroke-width="1"/>
<text x="313" y="253.28" font-size="6.9" font-weight="bold" text-anchor="end" fill="#111" class="tk">0.14</text>
<line x1="316.4" y1="229.3" x2="319" y2="229.3" stroke="#333333" stroke-width="1"/>
<text x="313" y="231.08" font-size="6.9" font-weight="bold" text-anchor="end" fill="#111" class="tk">0.16</text>
<line x1="316.4" y1="207.1" x2="319" y2="207.1" stroke="#333333" stroke-width="1"/>
<text x="313" y="208.88" font-size="6.9" font-weight="bold" text-anchor="end" fill="#111" class="tk">0.18</text>
<line x1="317.4" y1="351.4" x2="319" y2="351.4" stroke="#333333" stroke-width="1"/>
<line x1="317.4" y1="329.2" x2="319" y2="329.2" stroke="#333333" stroke-width="1"/>
<line x1="317.4" y1="307" x2="319" y2="307" stroke="#333333" stroke-width="1"/>
<line x1="317.4" y1="284.8" x2="319" y2="284.8" stroke="#333333" stroke-width="1"/>
<line x1="317.4" y1="262.6" x2="319" y2="262.6" stroke="#333333" stroke-width="1"/>
<line x1="317.4" y1="240.4" x2="319" y2="240.4" stroke="#333333" stroke-width="1"/>
<line x1="317.4" y1="218.2" x2="319" y2="218.2" stroke="#333333" stroke-width="1"/>
<rect x="319" y="206.7" width="217.5" height="155.8" fill="none" stroke="#5a5a5a" stroke-width="1.25"/>
<text x="285.6" y="210.8" font-size="11.2" font-weight="bold" text-anchor="start" fill="#111" class="pl" textLength="7.4" lengthAdjust="spacingAndGlyphs">D</text>
<text x="293.8" y="210.8" font-size="11.5" font-weight="bold" text-anchor="start" fill="#111" textLength="3" lengthAdjust="spacingAndGlyphs">)</text>
<text x="405.4" y="386" font-size="8.6" font-weight="bold" text-anchor="start" fill="#111" textLength="45" lengthAdjust="spacingAndGlyphs">Time (min)</text>
<text x="292.4" y="284.4" font-size="7.3" font-weight="bold" text-anchor="middle" fill="#111" transform="rotate(-90 292.4 284.4)" textLength="14.3" lengthAdjust="spacingAndGlyphs">1/C<tspan font-size="4.8" dy="1.6">t</tspan></text>
<rect x="341.2" y="218.6" width="3.6" height="3.6" fill="#111111"/>
<text x="355" y="223.3" font-size="7.0" font-weight="bold" text-anchor="start" fill="#111" textLength="46.8" lengthAdjust="spacingAndGlyphs">TiO<tspan font-size="5.04" dy="2.1">2</tspan><tspan dy="-2.1"> pristine</tspan></text>
<path d="M343 228.68L345.34 232.89L340.66 232.89Z" fill="#ff1a1a"/>
<text x="355" y="233.92" font-size="7.0" font-weight="bold" text-anchor="start" fill="#111" textLength="40.8" lengthAdjust="spacingAndGlyphs">TiO<tspan font-size="5.04" dy="2.1">2</tspan><tspan dy="-2.1"> Bi 1%</tspan></text>
<circle cx="343" cy="241.64" r="2.12" fill="#1a1aff"/>
<text x="355" y="244.54" font-size="7.0" font-weight="bold" text-anchor="start" fill="#111" textLength="40.8" lengthAdjust="spacingAndGlyphs">TiO<tspan font-size="5.04" dy="2.1">2</tspan><tspan dy="-2.1"> Bi 3%</tspan></text>
<circle cx="343" cy="252.26" r="2.12" fill="#ff1aff"/>
<text x="355" y="255.16" font-size="7.0" font-weight="bold" text-anchor="start" fill="#111" textLength="40.3" lengthAdjust="spacingAndGlyphs">TiO<tspan font-size="5.04" dy="2.1">2</tspan><tspan dy="-2.1"> Bi 5%</tspan></text>
<path d="M343 260.27L345.61 262.88L343 265.49L340.39 262.88Z" fill="#1a8a1a"/>
<text x="355" y="265.78" font-size="7.0" font-weight="bold" text-anchor="start" fill="#111" textLength="45.6" lengthAdjust="spacingAndGlyphs">TiO<tspan font-size="5.04" dy="2.1">2</tspan><tspan dy="-2.1"> Bi 10%</tspan></text>
</svg>
</body></html>
